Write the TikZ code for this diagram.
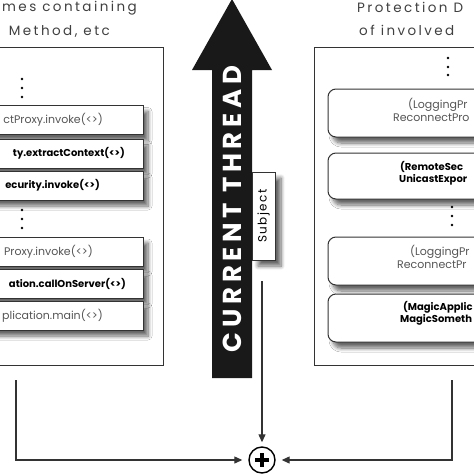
\documentclass[tikz,border=0pt]{standalone}
\usepackage{fontspec}
\setmainfont{Poppins}
\usetikzlibrary{arrows.meta,shadows.blur}

\definecolor{inkgray}{HTML}{333333}
\definecolor{txtgray}{HTML}{555555}
\definecolor{titlegray}{HTML}{404040}

\tikzset{
  panel/.style={draw=inkgray, line width=1pt, fill=white, inner sep=0pt},
  frame/.style={draw=inkgray, line width=1pt, fill=white, inner sep=0pt,
    minimum width=153pt, minimum height=29pt,
    blur shadow={shadow xshift=5pt, shadow yshift=-6pt, shadow blur steps=8,
      shadow blur radius=4pt, shadow opacity=60}},
  rframe/.style={frame, rounded corners=8pt, minimum width=170pt, minimum height=48pt},
  ftext/.style={font=\fontsize{11}{12}\selectfont, text=txtgray, inner sep=0pt},
  fbold/.style={font=\fontsize{10}{12}\selectfont\bfseries, text=black, inner sep=0pt},
  title/.style={font=\fontsize{13.5}{15}\selectfont\addfontfeature{LetterSpace=18},
    text=titlegray, inner sep=0pt},
  dot/.style={circle, fill=black, inner sep=0pt, minimum size=2.8pt},
  feed/.style={draw=inkgray, line width=1.2pt, -{Triangle[length=8pt,width=7pt]}},
}

\begin{document}
\begin{tikzpicture}[x=1pt,y=-1pt]
\useasboundingbox (0,0) rectangle (474,474);
\clip (0,0) rectangle (474,474);

% titles
    \node[title, anchor=base east] (ltitle1) at (137,11) {mes containing};
    \node[title, anchor=base east] (ltitle2) at (110,35) {Method, etc};
    \node[title, anchor=base west] (rtitle1) at (357,12) {Protection D};
    \node[title, anchor=base west] (rtitle2) at (359,35) {of involved};

% left stack
    \node[panel, minimum width=172pt, minimum height=318pt] (lpanel) at (77,206) {};

    \node[dot] (ld1) at (22,79) {};
    \node[dot] (ld2) at (22,88) {};
    \node[dot] (ld3) at (22,97) {};

    \node[frame] (lf1) at (66.5,120) {};
    \node[frame] (lf2) at (66.5,153.5) {};
    \node[frame] (lf3) at (66.5,185.5) {};

    \node[dot] (ld4) at (22,210) {};
    \node[dot] (ld5) at (22,219) {};
    \node[dot] (ld6) at (22,228) {};

    \node[frame] (lf4) at (66.5,251.5) {};
    \node[frame] (lf5) at (66.5,283.5) {};
    \node[frame] (lf6) at (66.5,315.5) {};

    \node[ftext, anchor=east] (lt1) at (103,120) {ctProxy.invoke(<>)};
    \node[fbold, anchor=east] (lt2) at (125,153.5) {ty.extractContext(<>)};
    \node[fbold, anchor=east] (lt3) at (100,185.5) {ecurity.invoke(<>)};
    \node[ftext, anchor=east] (lt4) at (93,251.5) {Proxy.invoke(<>)};
    \node[fbold, anchor=east] (lt5) at (126,283.5) {ation.callOnServer(<>)};
    \node[ftext, anchor=east] (lt6) at (103,315.5) {plication.main(<>)};

% right stack
    \node[panel, minimum width=176pt, minimum height=318pt] (rpanel) at (402,206) {};

    \node[dot] (rd1) at (448,58) {};
    \node[dot] (rd2) at (448,67) {};
    \node[dot] (rd3) at (448,75) {};

    \node[rframe] (rf1) at (413,113) {};
    \node[rframe, minimum height=46pt] (rf2) at (413,176) {};

    \node[dot] (rd4) at (452,207) {};
    \node[dot] (rd5) at (452,216) {};
    \node[dot] (rd6) at (452,225) {};

    \node[rframe] (rf3) at (413,261) {};
    \node[rframe] (rf4) at (413,318) {};

    \node[ftext, anchor=west] (rt1a) at (408,105) {(LoggingPr};
    \node[ftext, anchor=west] (rt1b) at (393,118) {ReconnectPro};
    \node[fbold, anchor=west] (rt2a) at (400,167) {(RemoteSec};
    \node[fbold, anchor=west] (rt2b) at (399,180) {UnicastExpor};
    \node[ftext, anchor=west] (rt3a) at (410,252) {(LoggingPr};
    \node[ftext, anchor=west] (rt3b) at (397,265) {ReconnectPr};
    \node[fbold, anchor=west] (rt4a) at (403,307) {(MagicApplic};
    \node[fbold, anchor=west] (rt4b) at (400,320) {MagicSometh};

% current thread
    \fill[black!90] (212,378) -- (212,70) -- (192,70) -- (232,-1)
      -- (272,70) -- (252,70) -- (252,378) -- cycle;
    \node[rotate=90, text=white,
      font=\fontsize{26}{26}\selectfont\bfseries\addfontfeature{LetterSpace=18}]
      (thread) at (232,209) {CURRENT THREAD};

    \node[draw=inkgray, line width=1pt, fill=white, inner sep=0pt,
      minimum width=23pt, minimum height=88pt,
      font=\fontsize{12}{12}\selectfont\addfontfeature{LetterSpace=12},
      blur shadow={shadow xshift=6pt, shadow yshift=-6pt, shadow blur steps=8,
        shadow blur radius=4pt, shadow opacity=60}]
      (subject) at (263.5,216) {\rotatebox{90}{Subject}};

% combination
    \coordinate (sfoot) at (262,281);
    \coordinate (lfoot) at (16,380);
    \coordinate (rfoot) at (452,380);

    \node[circle, draw=black, line width=1.4pt, fill=white, minimum size=26pt,
      inner sep=0pt] (sum) at (262,460) {};
    \draw[line width=3.4pt] (sum.center) ++(-7,0) -- ++(14,0);
    \draw[line width=3.4pt] (sum.center) ++(0,-7) -- ++(0,14);

    \draw[feed, shorten >=4pt] (sfoot) -- (sum.north);
    \draw[feed, shorten >=6pt] (lfoot) |- (sum.west);
    \draw[feed, shorten >=6pt] (rfoot) |- (sum.east);

\end{tikzpicture}
\end{document}
